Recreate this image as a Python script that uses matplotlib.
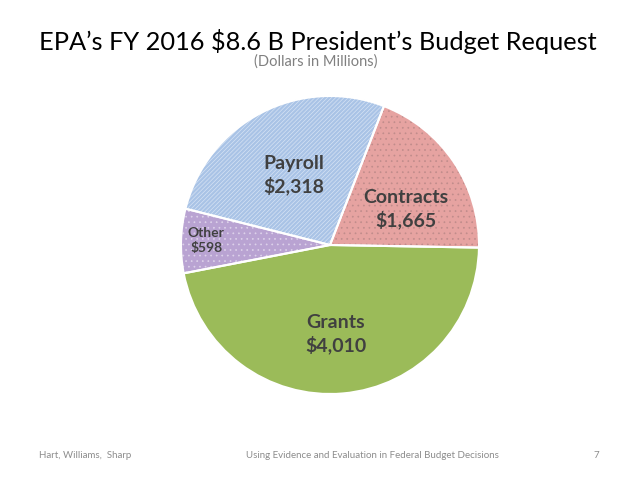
import matplotlib
matplotlib.use("Agg")
import matplotlib.pyplot as plt

# budget request, dollars in millions (counterclockwise from ~0 deg)
categories = ["Contracts", "Payroll", "Other", "Grants"]
amounts = [1665, 2318, 598, 4010]
face_colors = ["#e6a3a1", "#a9c3e6", "#b9a3d2", "#9bbb59"]
hatch_colors = ["#c08c8b", "#d6e3f4", "#ddd2ea", "#9bbb59"]
hatches = ["...", "////////", "...", None]

# label positions (pie data coords) and sizes
label_pos = [(0.51, 0.24), (-0.24, 0.47), (-0.83, 0.03), (0.04, -0.60)]
label_size = [14, 14, 10, 14]

plt.rcParams["font.family"] = ["Lato", "DejaVu Sans"]
plt.rcParams["hatch.linewidth"] = 0.5

W, H = 638, 478
fig = plt.figure(figsize=(W / 100, H / 100), dpi=100)
fig.patch.set_facecolor("white")

cx, cy, r = 330, 245, 149
ax = fig.add_axes([(cx - r) / W, (H - cy - r) / H, 2 * r / W, 2 * r / H])

wedges, _ = ax.pie(amounts, startangle=-1, counterclock=True,
                   colors=face_colors, radius=1,
                   wedgeprops=dict(linewidth=0, clip_on=False))
for w, hc, h in zip(wedges, hatch_colors, hatches):
    if h:
        w.set_hatch(h)
        w.set_edgecolor(hc)
ax.pie(amounts, startangle=-1, counterclock=True, radius=1,
       colors=["none"] * len(amounts),
       wedgeprops=dict(linewidth=1.5, edgecolor="white", facecolor="none",
                       clip_on=False))
ax.set_xlim(-1, 1)
ax.set_ylim(-1, 1)
ax.set_aspect("equal")
ax.axis("off")

for name, val, (x, y), fs in zip(categories, amounts, label_pos, label_size):
    ax.text(x, y, f"{name}\n${val:,}", ha="center", va="center",
            fontsize=fs, fontweight="bold", color="#404040", linespacing=1.3)

fig.text(318 / W, 1 - 42 / H, "EPA\u2019s FY 2016 $8.6 B President\u2019s Budget Request",
         ha="center", va="center", fontsize=18.3, color="black")
fig.text(316 / W, 1 - 62 / H, "(Dollars in Millions)", ha="center", va="center",
         fontsize=10.5, color="#808080")

fig.text(39 / W, 1 - 456 / H, "Hart, Williams,  Sharp", ha="left", va="center",
         fontsize=7, color="#8c8c8c")
fig.text(372 / W, 1 - 456 / H, "Using Evidence and Evaluation in Federal Budget Decisions",
         ha="center", va="center", fontsize=7, color="#8c8c8c")
fig.text(596 / W, 1 - 456 / H, "7", ha="center", va="center",
         fontsize=7, color="#8c8c8c")

fig.savefig("out.png", dpi=100)
